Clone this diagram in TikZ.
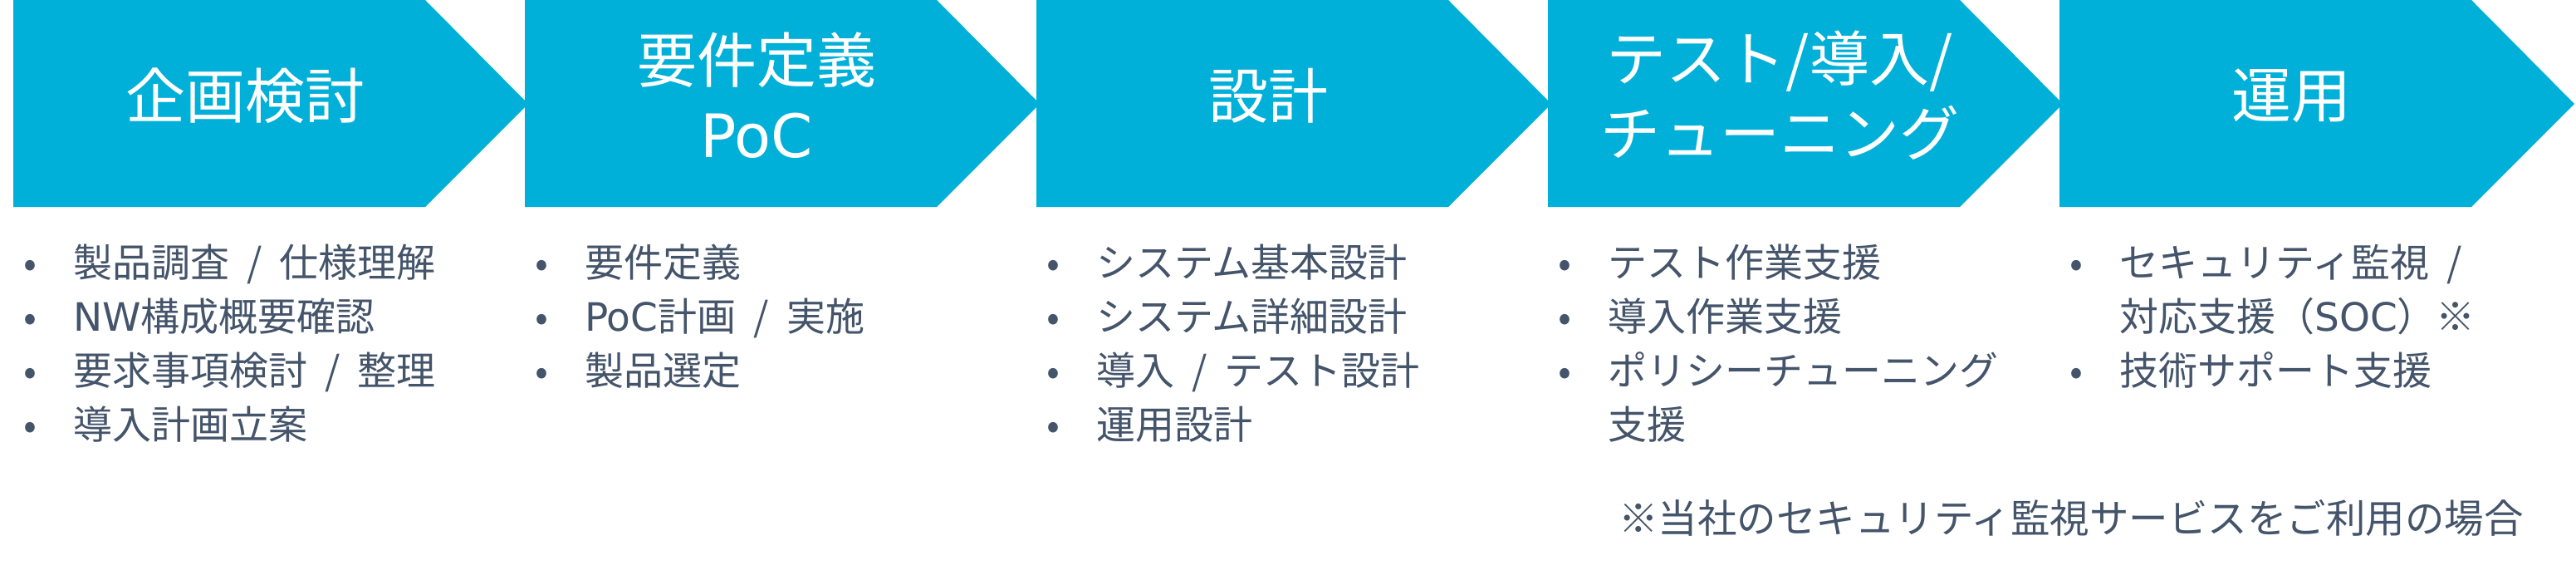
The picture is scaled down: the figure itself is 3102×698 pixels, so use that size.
\documentclass[tikz,border=0pt]{standalone}
\usepackage{fontspec}
\setmainfont{Noto Sans CJK JP}
\newfontfamily\lat{DejaVu Sans}
\definecolor{phaseblue}{RGB}{0,176,216}
\definecolor{notegray}{RGB}{68,84,106}
\newcommand{\bul}{\llap{\makebox[0pt][c]{•}\kern52pt}}
\newcommand{\sep}{\hspace{0.45em}/\hspace{0.45em}}

\begin{document}
\begin{tikzpicture}[x=1pt,y=-1pt,
   phase/.style={fill=phaseblue},
   title/.style={text=white,font=\fontsize{72}{90}\selectfont,align=center,inner sep=0pt},
   item/.style={text=notegray,font=\fontsize{47}{65}\selectfont,anchor=base west,inner sep=0pt}]
   \useasboundingbox (0,0) rectangle (3102,698);
   \fill[phase] (16,0) -- ++(496,0) -- ++(124,125) -- ++(-124,124) -- ++(-496,0) -- cycle;
   \fill[phase] (632,0) -- ++(496,0) -- ++(124,125) -- ++(-124,124) -- ++(-496,0) -- cycle;
   \fill[phase] (1248,0) -- ++(496,0) -- ++(124,125) -- ++(-124,124) -- ++(-496,0) -- cycle;
   \fill[phase] (1864,0) -- ++(496,0) -- ++(124,125) -- ++(-124,124) -- ++(-496,0) -- cycle;
   \fill[phase] (2480,0) -- ++(496,0) -- ++(124,125) -- ++(-124,124) -- ++(-496,0) -- cycle;
   \node[title] (plan) at (295,115) {企画検討};
   \node[title] (req) at (911,115) {要件定義\\{\lat PoC}};
   \node[title] (design) at (1527,115) {設計};
   \node[title] (test) at (2143,115) {テスト/導入/\\チューニング};
   \node[title] (ops) at (2759,115) {運用};
   \node[item] (plan1) at (88,333) {\bul 製品調査\sep 仕様理解};
   \node[item] (plan2) at (88,398) {\bul{\lat NW}構成概要確認};
   \node[item] (plan3) at (88,463) {\bul 要求事項検討\sep 整理};
   \node[item] (plan4) at (88,528) {\bul 導入計画立案};
   \node[item] (req1) at (704,333) {\bul 要件定義};
   \node[item] (req2) at (704,398) {\bul{\lat PoC}計画\sep 実施};
   \node[item] (req3) at (704,463) {\bul 製品選定};
   \node[item] (design1) at (1320,333) {\bul システム基本設計};
   \node[item] (design2) at (1320,398) {\bul システム詳細設計};
   \node[item] (design3) at (1320,463) {\bul 導入\sep テスト設計};
   \node[item] (design4) at (1320,528) {\bul 運用設計};
   \node[item] (test1) at (1936,333) {\bul テスト作業支援};
   \node[item] (test2) at (1936,398) {\bul 導入作業支援};
   \node[item] (test3) at (1936,463) {\bul ポリシーチューニング};
   \node[item] (test3b) at (1936,528) {支援};
   \node[item] (ops1) at (2552,333) {\bul セキュリティ監視\hspace{0.45em}/};
   \node[item] (ops1b) at (2552,398) {対応支援（{\lat SOC}）※};
   \node[item] (ops2) at (2552,463) {\bul 技術サポート支援};
   \node[item,font=\fontsize{47.5}{65}\selectfont] (note) at (1949,641) {※当社のセキュリティ監視サービスをご利用の場合};
  \end{tikzpicture}
\end{document}
